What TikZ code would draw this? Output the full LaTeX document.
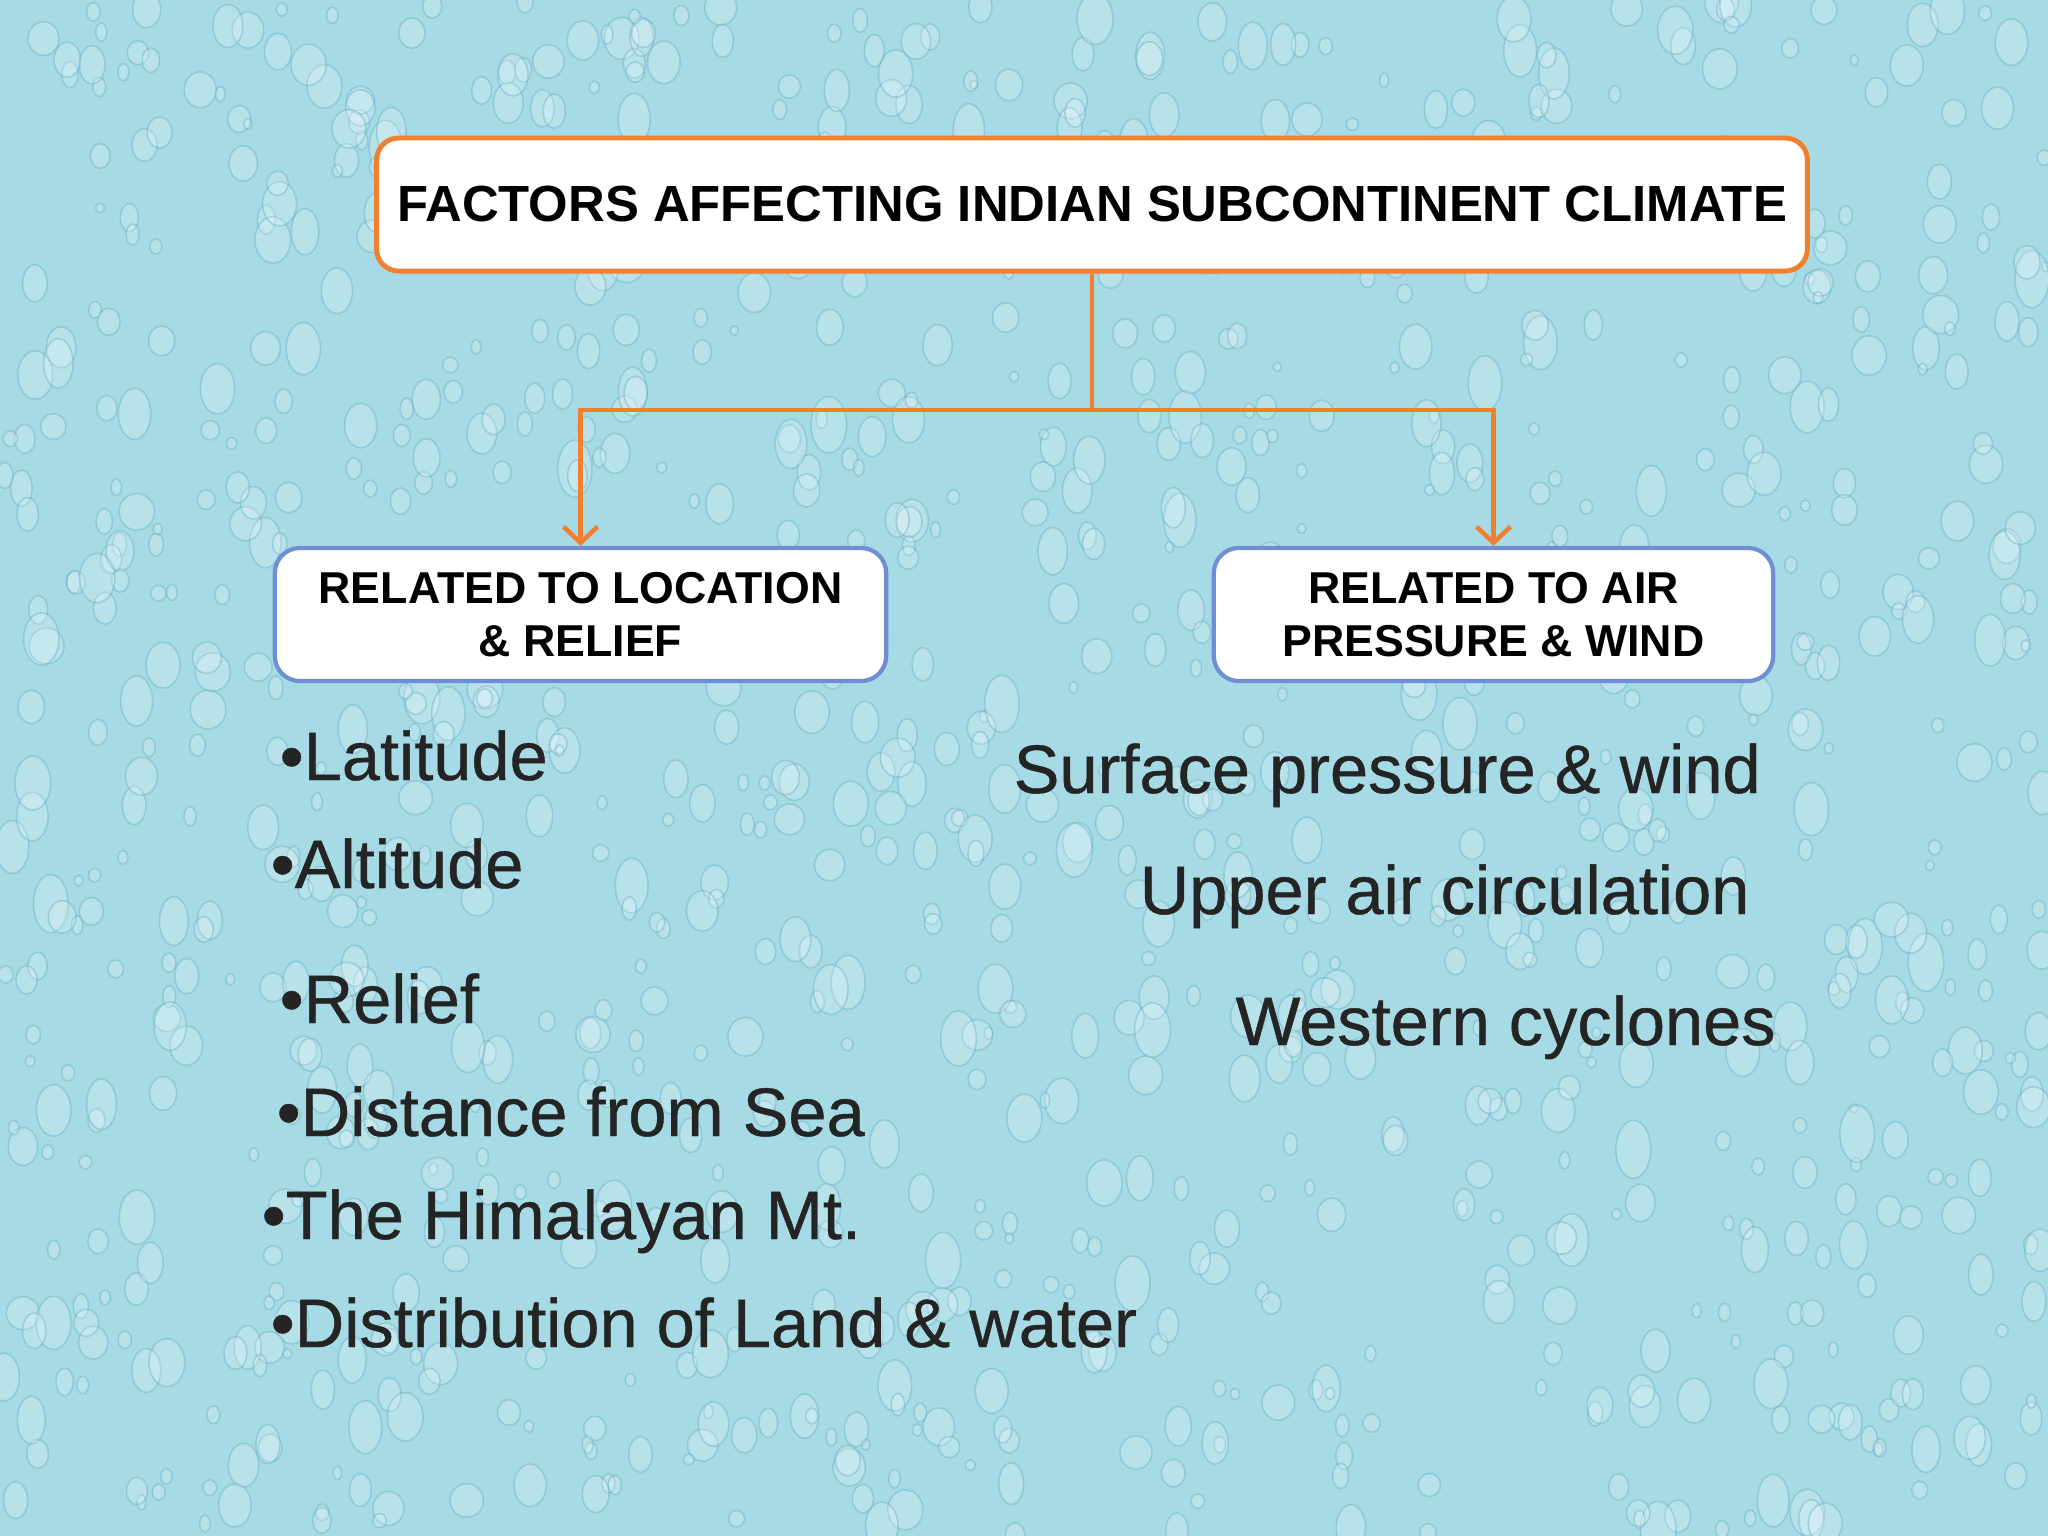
\documentclass[tikz,border=0pt]{standalone}
\usepackage{fontspec}
\setmainfont{Liberation Sans}
\newfontfamily\itemfont[FakeBold=0.6]{Liberation Sans}
\usetikzlibrary{arrows.meta}
\definecolor{bgc}{RGB}{166,219,229}
\definecolor{dropdark}{RGB}{100,172,196}
\definecolor{orangeline}{RGB}{240,128,48}
\definecolor{bluebox}{RGB}{112,142,212}
\definecolor{txtc}{RGB}{36,36,36}
\tikzset{
  titlebox/.style={draw=orangeline, line width=1.4pt, fill=white, rounded corners=0.22cm,
    minimum width=14.30cm, minimum height=1.33cm, inner sep=0pt,
    font=\fontsize{14.45}{17}\selectfont\bfseries, text=black},
  subbox/.style={draw=bluebox, line width=1.2pt, fill=white, rounded corners=0.25cm,
    minimum height=1.33cm, inner sep=0pt, align=center,
    font=\fontsize{12.7}{15.2}\selectfont\bfseries, text=black},
  conn/.style={draw=orangeline, line width=1.2pt},
  arr/.style={conn, -{Straight Barb[length=0.16cm, width=0.34cm, line width=1.3pt]}},
  item/.style={anchor=base west, inner sep=0pt, text=txtc,
    font=\itemfont\fontsize{19.5}{22}\selectfont},
  drop/.style={fill=white, fill opacity=0.2, draw=dropdark, draw opacity=0.4, line width=0.45pt}
}
\begin{document}
\begin{tikzpicture}[x=0.01cm, y=-0.01cm]
  % background
  \fill[bgc] (0,0) rectangle (2048,1536);
  \useasboundingbox (0,0) rectangle (2048,1536);
  \pgfmathsetseed{4242}
  \begin{scope}
    \clip (0,0) rectangle (2048,1536);
    \foreach \i in {1,...,1100} {
      \pgfmathsetmacro{\px}{rnd*2048}
      \pgfmathsetmacro{\py}{rnd*1536}
      \pgfmathsetmacro{\rx}{4+rnd*14}
      \pgfmathsetmacro{\ry}{\rx*(1.0+rnd*0.7)}
      \path[drop] (\px,\py) ellipse [x radius=\rx, y radius=\ry];
    }
  \end{scope}

  % boxes
  \node[titlebox] (title) at (1092,204.5) {FACTORS AFFECTING INDIAN SUBCONTINENT CLIMATE};
  \node[subbox, minimum width=6.11cm] (lbox) at (580.5,614.5) {RELATED TO LOCATION\\\& RELIEF};
  \node[subbox, minimum width=5.59cm] (rbox) at (1493.5,614.5) {RELATED TO AIR\\PRESSURE \& WIND};

  % connectors
  \coordinate (junc) at (1092,410);
  \draw[conn] (title.south) -- (junc);
  \draw[arr] (junc) -| (lbox.north);
  \draw[arr] (junc) -| (rbox.north);

  % left list
  \node[item] (l1) at (279,780) {•Latitude};
  \node[item] (l2) at (270,888) {•Altitude};
  \node[item] (l3) at (279,1023) {•Relief};
  \node[item] (l4) at (276,1136) {•Distance from Sea};
  \node[item] (l5) at (261,1239) {•The Himalayan Mt.};
  \node[item] (l6) at (270,1347) {•Distribution of Land \& water};

  % right list
  \node[item] (r1) at (1013,793) {Surface pressure \& wind};
  \node[item] (r2) at (1139,914) {Upper air circulation};
  \node[item] (r3) at (1235,1045) {Western cyclones};
\end{tikzpicture}
\end{document}
